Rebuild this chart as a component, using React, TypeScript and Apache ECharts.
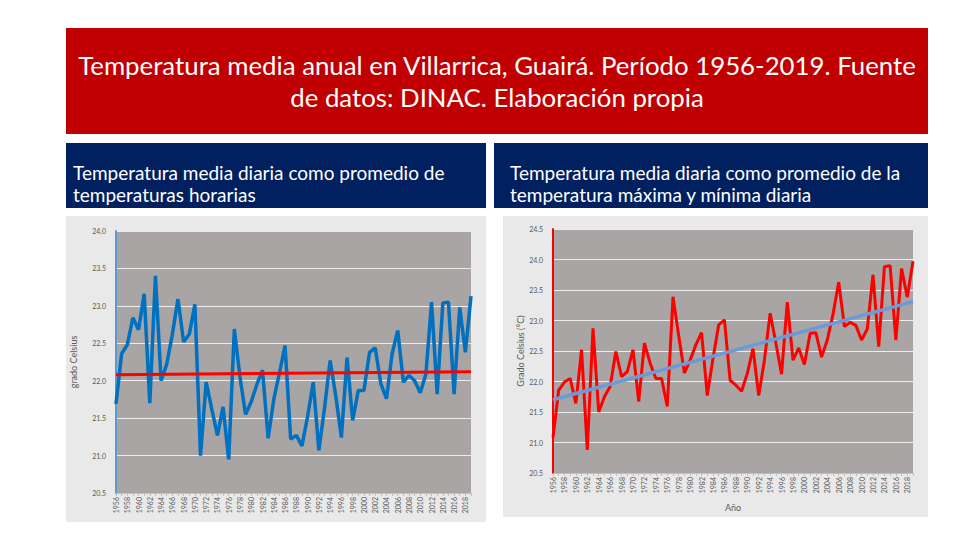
import React, { useEffect, useRef } from "react";
import * as echarts from "echarts";

// Years 1956–2019
const years: string[] = [];
for (let y = 1956; y <= 2019; y++) years.push(String(y));

// Mean daily temperature from hourly readings (°C)
const hourlyMean = [
  21.69, 22.36, 22.48, 22.84, 22.68, 23.16, 21.7, 23.4, 22.0, 22.22,
  22.62, 23.09, 22.52, 22.62, 23.02, 21.0, 21.98, 21.62, 21.27, 21.65,
  20.95, 22.69, 22.05, 21.55, 21.72, 21.95, 22.14, 21.23, 21.75, 22.1,
  22.47, 21.22, 21.27, 21.13, 21.52, 21.98, 21.07, 21.63, 22.27, 21.8,
  21.24, 22.31, 21.47, 21.87, 21.87, 22.38, 22.44, 21.96, 21.76, 22.36,
  22.67, 21.98, 22.07, 22.0, 21.84, 22.09, 23.05, 21.82, 23.04, 23.05,
  21.82, 22.98, 22.38, 23.13,
];

// Mean daily temperature from daily max and min (°C)
const maxMinMean = [
  21.08, 21.86, 21.99, 22.05, 21.64, 22.52, 20.88, 22.87, 21.5, 21.75,
  21.92, 22.49, 22.08, 22.16, 22.52, 21.67, 22.63, 22.3, 22.05, 22.05,
  21.59, 23.39, 22.75, 22.14, 22.35, 22.6, 22.8, 21.77, 22.38, 22.93,
  23.01, 22.02, 21.94, 21.84, 22.13, 22.54, 21.77, 22.35, 23.12, 22.63,
  22.12, 23.3, 22.35, 22.55, 22.28, 22.79, 22.8, 22.4, 22.68, 23.1,
  23.63, 22.9, 22.97, 22.92, 22.68, 22.86, 23.75, 22.57, 23.88, 23.9,
  22.68, 23.85, 23.38, 23.97,
];

// Linear trend end points (first year, last year)
const hourlyTrend = [22.08, 22.12];
const maxMinTrend = [21.7, 23.31];

const FONT = "Lato, 'Open Sans', sans-serif";

function xAxisFor(gridIndex: number, name: string) {
  return {
    type: "category",
    gridIndex,
    data: years,
    boundaryGap: false,
    name,
    nameLocation: "middle",
    nameGap: 30,
    nameTextStyle: { color: "#595959", fontSize: 9, fontFamily: FONT },
    axisLine: { show: true, lineStyle: { color: "#bfbfbf", width: 1 } },
    axisTick: { show: true, interval: 0, length: 3, lineStyle: { color: "#bfbfbf" } },
    axisLabel: {
      interval: 1,
      rotate: 90,
      fontSize: 7,
      color: "#595959",
      fontFamily: FONT,
      margin: 4,
    },
    splitLine: { show: false },
  };
}

function yAxisFor(
  gridIndex: number,
  min: number,
  max: number,
  name: string,
  lineColor: string,
  nameGap: number
) {
  return {
    type: "value",
    gridIndex,
    min,
    max,
    interval: 0.5,
    name,
    nameLocation: "middle",
    nameRotate: 90,
    nameGap,
    nameTextStyle: { color: "#595959", fontSize: 9, fontFamily: FONT },
    axisLine: { show: true, lineStyle: { color: lineColor, width: 2 } },
    axisTick: { show: false },
    axisLabel: {
      fontSize: 7,
      color: "#595959",
      fontFamily: FONT,
      margin: 10,
      formatter: (v: number) => v.toFixed(1),
    },
    splitLine: { show: true, lineStyle: { color: "#ececec", width: 1 } },
  };
}

export default function App() {
  const ref = useRef<HTMLDivElement>(null);

  useEffect(() => {
    if (!ref.current) return;
    const chart = echarts.init(ref.current, undefined, { renderer: "svg" });
    const last = years.length - 1;

    chart.setOption({
      animation: false,
      backgroundColor: "#ffffff",
      graphic: [
        // Title banner
        { type: "rect", shape: { x: 66, y: 28, width: 862, height: 106 }, style: { fill: "#c00000" }, z: 0 },
        {
          type: "text",
          x: 497,
          y: 81,
          style: {
            text: "Temperatura media anual en Villarrica, Guairá. Período 1956-2019. Fuente\nde datos: DINAC. Elaboración propia",
            fill: "#ffffff",
            font: `25.8px ${FONT}`,
            lineHeight: 32,
            align: "center",
            verticalAlign: "middle",
          },
          z: 1,
        },
        // Sub-headers
        { type: "rect", shape: { x: 66, y: 143, width: 420, height: 65 }, style: { fill: "#002060" }, z: 0 },
        {
          type: "text",
          x: 73,
          y: 183,
          style: {
            text: "Temperatura media diaria como promedio de\ntemperaturas horarias",
            fill: "#ffffff",
            font: `19px ${FONT}`,
            lineHeight: 22,
            align: "left",
            verticalAlign: "middle",
          },
          z: 1,
        },
        { type: "rect", shape: { x: 494, y: 143, width: 434, height: 65 }, style: { fill: "#002060" }, z: 0 },
        {
          type: "text",
          x: 510,
          y: 183,
          style: {
            text: "Temperatura media diaria como promedio de la\ntemperatura máxima y mínima diaria",
            fill: "#ffffff",
            font: `19px ${FONT}`,
            lineHeight: 22,
            align: "left",
            verticalAlign: "middle",
          },
          z: 1,
        },
        // Chart panels
        { type: "rect", shape: { x: 66, y: 216, width: 420, height: 306 }, style: { fill: "#e9e9e9" }, z: -10 },
        { type: "rect", shape: { x: 503, y: 216, width: 425, height: 301 }, style: { fill: "#e9e9e9" }, z: -10 },
      ],
      grid: [
        {
          left: 116,
          top: 231,
          width: 355,
          height: 262,
          show: true,
          backgroundColor: "#a8a5a4",
          borderWidth: 0,
        },
        {
          left: 553,
          top: 229,
          width: 360,
          height: 244,
          show: true,
          backgroundColor: "#a8a5a4",
          borderWidth: 0,
        },
      ],
      xAxis: [xAxisFor(0, ""), xAxisFor(1, "Año")],
      yAxis: [
        yAxisFor(0, 20.5, 24.0, "grado Celsius", "#5b9bd5", 38),
        yAxisFor(1, 20.5, 24.5, "Grado Celsius (°C)", "#ff0000", 27),
      ],
      series: [
        {
          type: "line",
          name: "Horaria",
          xAxisIndex: 0,
          yAxisIndex: 0,
          data: hourlyMean,
          symbol: "none",
          lineStyle: { color: "#0070c0", width: 3.5 },
          z: 3,
          markLine: {
            silent: true,
            symbol: "none",
            label: { show: false },
            lineStyle: { color: "#ff0000", width: 3, type: "solid" },
            data: [[{ coord: [0, hourlyTrend[0]] }, { coord: [last, hourlyTrend[1]] }]],
          },
        },
        {
          type: "line",
          name: "Máx-Mín",
          xAxisIndex: 1,
          yAxisIndex: 1,
          data: maxMinMean,
          symbol: "none",
          lineStyle: { color: "#ff0000", width: 3 },
          z: 3,
          markLine: {
            silent: true,
            symbol: "none",
            label: { show: false },
            lineStyle: { color: "#6a9bd8", width: 3.5, type: "solid" },
            data: [[{ coord: [0, maxMinTrend[0]] }, { coord: [last, maxMinTrend[1]] }]],
          },
        },
      ],
    });

    return () => chart.dispose();
  }, []);

  return (
    <div
      ref={ref}
      style={{ position: "fixed", left: 0, top: 0, width: 960, height: 540 }}
    />
  );
}
